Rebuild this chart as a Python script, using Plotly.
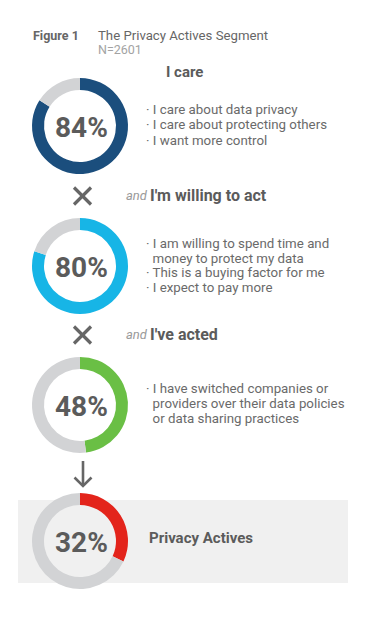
import plotly.graph_objects as go

W, H = 380, 620

# ---- data ----
pct_values = [84, 80, 48, 32]
pct_labels = ["84%", "80%", "48%", "32%"]
ring_colors = ["#1b4e7d", "#17b5e6", "#6abf45", "#e3241b"]
rest_color = "#d2d3d5"
headings = ["I care", "I'm willing to act", "I've acted", "Privacy Actives"]
bullets = [
    ["· I care about data privacy", "· I care about protecting others", "· I want more control"],
    ["· I am willing to spend time and", "  money to protect my data", "· This is a buying factor for me", "· I expect to pay more"],
    ["· I have switched companies or", "  providers over their data policies", "  or data sharing practices"],
]

# ---- layout helpers (pixel geometry) ----
centers = [(80, 126), (80, 266), (80, 405), (80, 541)]
R = 48
bullet_y = [[109, 124, 140], [243, 258, 272, 287], [388, 403, 418]]

TXT = "#5b5b5b"
LIGHT = "#9a9a9a"
ICON = "#666666"
FONT = "Roboto, Liberation Sans, Arial, sans-serif"

fig = go.Figure()

for i, v in enumerate(pct_values):
    cx, cy = centers[i]
    fig.add_trace(go.Pie(
        values=[v, 100 - v],
        marker=dict(colors=[ring_colors[i], rest_color], line=dict(width=0)),
        hole=0.75, sort=False, direction="clockwise", rotation=0,
        textinfo="none", hoverinfo="skip", showlegend=False,
        domain=dict(x=[(cx - R) / W, (cx + R) / W],
                    y=[1 - (cy + R) / H, 1 - (cy - R) / H]),
    ))

ann = []
def add(x, y, text, size, color=TXT, anchor="left", family=FONT):
    ann.append(dict(x=x, y=y, xref="x", yref="y", text=text, showarrow=False,
                    xanchor=anchor, yanchor="middle",
                    font=dict(size=size, color=color, family=family)))

# title
add(31, 35, "<b>Figure 1</b>", 12.5, "#666666")
add(96, 35, "The Privacy Actives Segment", 13.2, "#666666")
add(96, 49, "N=2601", 12.5, "#a3a3a3")

# headings
add(184, 72, "<b>" + headings[0] + "</b>", 15, TXT, anchor="center")
add(124, 195, "<i>and</i>", 13, LIGHT)
add(148, 195, "<b>" + headings[1] + "</b>", 16, TXT)
add(124, 334, "<i>and</i>", 13, LIGHT)
add(148, 334, "<b>" + headings[2] + "</b>", 16, TXT)

# percentages
for i, lab in enumerate(pct_labels):
    cx, cy = centers[i]
    add(cx + 1, cy + 1, "<b>" + lab + "</b>", 28, TXT, anchor="center")

# bullets
for lines, ys in zip(bullets, bullet_y):
    for t, y in zip(lines, ys):
        add(144, y, t.replace("  ", "&nbsp;&nbsp;"), 13.3, "#6a6a6a")

add(147, 538, "<b>" + headings[3] + "</b>", 15, TXT)

# icons: two "×" marks and the down arrow
shapes = [dict(type="rect", xref="x", yref="y", x0=18, x1=348, y0=500, y1=583,
               fillcolor="#f0f0f0", line=dict(width=0), layer="below")]
for (xc, yc) in [(82.5, 196), (82.5, 335)]:
    d = 8.5
    shapes.append(dict(type="line", xref="x", yref="y", x0=xc - d, y0=yc - d, x1=xc + d, y1=yc + d,
                       line=dict(color=ICON, width=3.2)))
    shapes.append(dict(type="line", xref="x", yref="y", x0=xc - d, y0=yc + d, x1=xc + d, y1=yc - d,
                       line=dict(color=ICON, width=3.2)))
shapes.append(dict(type="line", xref="x", yref="y", x0=83, y0=461, x1=83, y1=486,
                   line=dict(color=ICON, width=2.6)))
shapes.append(dict(type="path", xref="x", yref="y", path="M 74.5 477.5 L 83 486 L 91.5 477.5",
                   line=dict(color=ICON, width=2.6)))

fig.update_layout(
    width=W, height=H, margin=dict(l=0, r=0, t=0, b=0),
    paper_bgcolor="white", plot_bgcolor="white",
    xaxis=dict(range=[0, W], visible=False, fixedrange=True),
    yaxis=dict(range=[H, 0], visible=False, fixedrange=True),
    annotations=ann,
    shapes=shapes,
)

fig.write_html("out.html", config={"displayModeBar": False},
               post_script="document.body.style.margin='0';")
